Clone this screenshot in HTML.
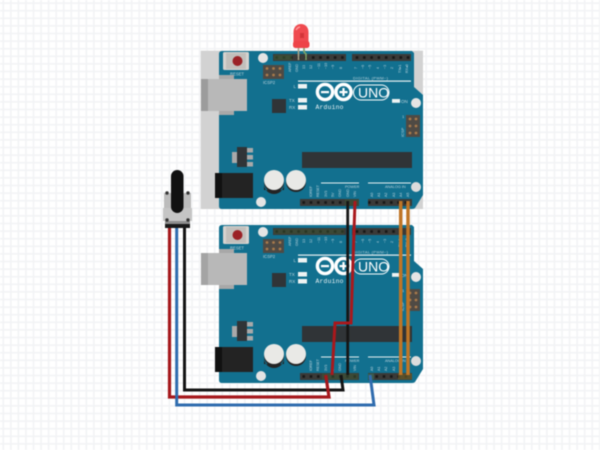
<!DOCTYPE html>
<html>
<head>
<meta charset="utf-8">
<style>
html,body{margin:0;padding:0;background:#fff;width:600px;height:450px;overflow:hidden}
svg{display:block;filter:blur(0.6px)}
text{font-family:"Liberation Sans",sans-serif;fill:#fff}
.t{font-size:3.6px;fill:#b9d2dc}
.m{font-family:"Liberation Mono",monospace}
</style>
</head>
<body>
<svg width="600" height="450" viewBox="0 0 600 450" xmlns="http://www.w3.org/2000/svg">
<defs>
<pattern id="grid" x="2.5" y="2.3" width="7.55" height="7.6" patternUnits="userSpaceOnUse">
<rect x="0" y="0" width="1.6" height="7.6" fill="#f2f3f5"/>
<rect x="0" y="0" width="7.55" height="1.6" fill="#f2f3f5"/>
</pattern>
<pattern id="pins" x="273" y="54" width="7.3" height="7" patternUnits="userSpaceOnUse">
<rect width="7.3" height="7" fill="#3a3a38"/>
<rect x="2.4" y="2.2" width="2.6" height="2.6" fill="#171717"/>
</pattern>
<pattern id="pinsb" x="300" y="199" width="7.3" height="7" patternUnits="userSpaceOnUse">
<rect width="7.3" height="7" fill="#3a3a38"/>
<rect x="2.4" y="2.2" width="2.6" height="2.6" fill="#171717"/>
</pattern>
<g id="board">
<path d="M219 54Q219 51 222 51H412L414 53V87L423 95V195L415 208Q414 209 412 209H222Q219 209 219 206Z" fill="#12708f"/>
<!-- reset -->
<rect x="223" y="52" width="26" height="18" rx="1.5" fill="#d6d3cf"/>
<rect x="226" y="53" width="20" height="16" fill="#c2bfbb"/>
<circle cx="237.5" cy="61" r="5" fill="#9b2226"/>
<text x="230" y="75.5" class="t" style="font-size:4.2px">RESET</text>
<circle cx="263" cy="58" r="5" fill="#e4e4e4"/>
<!-- top headers -->
<rect x="273" y="54" width="73" height="7" fill="url(#pins)"/>
<rect x="352" y="54" width="59" height="7" fill="url(#pins)"/>
<!-- ICSP2 -->
<rect x="263" y="65" width="21" height="14" fill="#4f4a44"/>
<g fill="#a87a4c"><circle cx="267" cy="68.5" r="1.4"/><circle cx="273.5" cy="68.5" r="1.4"/><circle cx="280" cy="68.5" r="1.4"/><circle cx="267" cy="75" r="1.4"/><circle cx="273.5" cy="75" r="1.4"/><circle cx="280" cy="75" r="1.4"/></g>
<text x="263" y="84" class="t" style="font-size:4.2px">ICSP2</text>
<!-- digital labels -->
<g class="t">
<text class="t" transform="translate(291,72) rotate(-90)">AREF</text>
<text class="t" transform="translate(298,72) rotate(-90)">GND</text>
<text class="t" transform="translate(305,69) rotate(-90)">13</text>
<text class="t" transform="translate(312,69) rotate(-90)">12</text>
<text class="t" transform="translate(320,69) rotate(-90)">~11</text>
<text class="t" transform="translate(327,69) rotate(-90)">~10</text>
<text class="t" transform="translate(334,69) rotate(-90)">~9</text>
<text class="t" transform="translate(342,69) rotate(-90)">8</text>
<text class="t" transform="translate(357,69) rotate(-90)">7</text>
<text class="t" transform="translate(364,69) rotate(-90)">~6</text>
<text class="t" transform="translate(371,69) rotate(-90)">~5</text>
<text class="t" transform="translate(379,69) rotate(-90)">4</text>
<text class="t" transform="translate(386,69) rotate(-90)">~3</text>
<text class="t" transform="translate(393,69) rotate(-90)">2</text>
<text class="t" transform="translate(401,73) rotate(-90)">TX▸1</text>
<text class="t" transform="translate(408,73) rotate(-90)">RX◂0</text>
</g>
<text x="353" y="79.5" class="t" style="font-size:4px;letter-spacing:.3px">DIGITAL (PWM~)</text>
<rect x="298" y="80.5" width="113" height="1.2" fill="#e8f0f2"/>
<!-- LEDs -->
<rect x="298" y="84" width="9" height="4.5" fill="#eef3f3"/>
<text x="293.5" y="88" class="t" style="font-size:4.5px">L</text>
<rect x="298" y="98" width="9" height="4.5" fill="#eef3f3"/>
<text x="289" y="102" class="t" style="font-size:4.5px">TX</text>
<rect x="298" y="105" width="9" height="4.5" fill="#eef3f3"/>
<text x="289" y="109" class="t" style="font-size:4.5px">RX</text>
<rect x="272" y="99" width="14" height="14" fill="#303437"/>
<!-- logo -->
<circle cx="325" cy="92" r="7.6" fill="none" stroke="#fff" stroke-width="3.4"/>
<circle cx="343.5" cy="92" r="7.6" fill="none" stroke="#fff" stroke-width="3.4"/>
<rect x="321" y="91" width="8" height="2.2" fill="#fff"/>
<rect x="339.5" y="91" width="8" height="2.2" fill="#fff"/>
<rect x="342.4" y="88" width="2.2" height="8" fill="#fff"/>
<rect x="353.5" y="85" width="35.5" height="15" rx="7.5" fill="none" stroke="#fff" stroke-width="1"/>
<text x="358" y="97.5" style="font-size:14px;font-weight:400" fill="#fff">UNO</text>
<text x="315.5" y="109" class="m" style="font-size:6.3px;letter-spacing:.25px;fill:#eaf2f4">Arduino</text>
<!-- ON -->
<rect x="392" y="99" width="8" height="3.8" fill="#eef3f3"/>
<text x="401" y="103" class="t" style="font-size:4.5px">ON</text>
<circle cx="416" cy="103" r="5" fill="#e4e4e4"/>
<!-- ICSP -->
<rect x="406" y="115" width="14" height="22" fill="#4f4a44"/>
<g fill="#a87a4c"><circle cx="410" cy="119" r="1.4"/><circle cx="416" cy="119" r="1.4"/><circle cx="410" cy="126" r="1.4"/><circle cx="416" cy="126" r="1.4"/><circle cx="410" cy="133" r="1.4"/><circle cx="416" cy="133" r="1.4"/></g>
<text class="t" transform="translate(404,137) rotate(-90)" style="font-size:4px">ICSP</text>
<text x="402" y="118" class="t" style="font-size:4px">1</text>
<!-- chip -->
<rect x="302" y="152" width="110" height="16" fill="#303437"/>
<!-- regulator -->
<rect x="232" y="152" width="6" height="11" fill="#a9a9a9"/>
<rect x="237" y="147" width="10" height="20" fill="#303437"/>
<rect x="247" y="148" width="6" height="4.5" fill="#a9a9a9"/>
<rect x="247" y="155" width="6" height="4.5" fill="#a9a9a9"/>
<rect x="247" y="162" width="6" height="4.5" fill="#a9a9a9"/>
<!-- jack -->
<rect x="215" y="173" width="38" height="25" fill="#232323"/>
<rect x="215" y="173" width="7" height="25" fill="#111"/>
<!-- caps -->
<path d="M264 184A10 10 0 0 0 284 184V190H264Z" fill="#242424"/>
<circle cx="274" cy="182" r="10" fill="#242424"/>
<circle cx="274" cy="180" r="10" fill="#e9e9e6"/>
<path d="M286 184A10 10 0 0 0 306 184V190H286Z" fill="#242424" opacity="0"/>
<circle cx="296" cy="182" r="10" fill="#242424"/>
<circle cx="296" cy="180" r="10" fill="#e9e9e6"/>
<!-- holes -->
<circle cx="261" cy="202" r="5" fill="#e4e4e4"/>
<circle cx="416" cy="187" r="5" fill="#dcdcdc"/>
<!-- power labels -->
<rect x="321" y="182.5" width="38" height="1" fill="#e8f0f2"/>
<rect x="368" y="182.5" width="43" height="1" fill="#e8f0f2"/>
<text x="345" y="188" class="t" style="font-size:3.8px">POWER</text>
<text x="385" y="188" class="t" style="font-size:3.8px">ANALOG IN</text>
<text class="t" transform="translate(312,197) rotate(-90)">IOREF</text>
<text class="t" transform="translate(319,197) rotate(-90)">RESET</text>
<text class="t" transform="translate(327,197) rotate(-90)">3V3</text>
<text class="t" transform="translate(334,197) rotate(-90)">5V</text>
<text class="t" transform="translate(341,197) rotate(-90)">GND</text>
<text class="t" transform="translate(349,197) rotate(-90)">GND</text>
<text class="t" transform="translate(356,197) rotate(-90)">VIN</text>
<text class="t" transform="translate(373,197) rotate(-90)">A0</text>
<text class="t" transform="translate(380,197) rotate(-90)">A1</text>
<text class="t" transform="translate(387,197) rotate(-90)">A2</text>
<text class="t" transform="translate(395,197) rotate(-90)">A3</text>
<text class="t" transform="translate(402,197) rotate(-90)">A4</text>
<text class="t" transform="translate(409,197) rotate(-90)">A5</text>
<!-- bottom headers -->
<rect x="300" y="199" width="59" height="7" fill="url(#pinsb)"/>
<rect x="368" y="199" width="44" height="7" fill="url(#pinsb)"/>
</g>
</defs>

<rect width="600" height="450" fill="#fff"/>
<rect width="600" height="450" fill="url(#grid)"/>

<!-- top board backing -->
<rect x="200.7" y="50.7" width="222.3" height="158.3" fill="#d2d2d2"/>
<use href="#board"/>
<!-- USB top -->
<rect x="201" y="79" width="46" height="32" fill="#b8b8b8"/>
<rect x="201" y="79" width="7" height="32" fill="#9c9c9c"/>
<rect x="219" y="75" width="15" height="4" fill="#a8a8a8"/>
<rect x="219" y="111" width="15" height="4" fill="#a8a8a8"/>
<!-- green pins top -->
<rect x="274" y="55" width="18" height="5" fill="#3d5a36" opacity=".6"/>
<rect x="345" y="199.5" width="14" height="6" fill="#3d5a36" opacity=".5"/>

<!-- bottom board -->
<use href="#board" y="174"/>
<rect x="201" y="253" width="46" height="32" fill="#b8b8b8"/>
<rect x="201" y="253" width="7" height="32" fill="#a4a4a4"/>
<rect x="219" y="249" width="15" height="4" fill="#a8a8a8"/>
<rect x="219" y="285" width="15" height="4" fill="#a8a8a8"/>
<rect x="274" y="229" width="70" height="5" fill="#3d5a36" opacity=".45"/>
<rect x="322" y="373.5" width="36" height="6" fill="#3d5a36" opacity=".5"/>
<rect x="368" y="373.5" width="6" height="6" fill="#3d6a56" opacity=".7"/>
<rect x="398" y="373.5" width="14" height="6" fill="#6a5a26" opacity=".7"/>

<!-- LED -->
<path d="M298.5 47V60" stroke="#a9a58a" stroke-width="1.6" fill="none"/>
<path d="M304 47V52L306 54V60" stroke="#7fa36a" stroke-width="1.6" fill="none"/>
<path d="M293.5 44V32C293.5 27 297 24 301 24C305 24 308.5 27 308.5 32V44Z" fill="#ef4a4f"/>
<rect x="293" y="41" width="16.5" height="7" rx="2.5" fill="#ee4348"/>
<path d="M296 30C297 28 299 27 300 27" stroke="#ff9b9b" stroke-width="1.4" fill="none"/>
<rect x="300" y="33" width="4" height="5" fill="#c92c30" opacity=".7"/>

<!-- orange wires -->
<path d="M400.7 201V375" stroke="#bf7526" stroke-width="3.5" fill="none"/>
<path d="M408 201V375" stroke="#bf7526" stroke-width="3.5" fill="none"/>

<!-- black/red upper wires -->
<path d="M347.7 201V375" stroke="#161616" stroke-width="2.8" fill="none"/>
<path d="M355 201L351 323H335L332 375" stroke="#a9181c" stroke-width="3" fill="none"/>

<!-- pot wires -->
<path d="M184.5 226V390H343L341 375" stroke="#141414" stroke-width="3" fill="none"/>
<path d="M169.5 226V397H329L325.7 375" stroke="#a5181c" stroke-width="3.2" fill="none"/>
<path d="M176.7 226V405H374L370 375" stroke="#2f6cae" stroke-width="3" fill="none"/>

<!-- potentiometer -->
<path d="M164 193H191V214L188 222H167L164 214Z" fill="#bcbcbc"/>
<rect x="163" y="208" width="29" height="13" fill="#c5c5c5"/>
<rect x="165" y="221" width="25" height="3" fill="#8e8e8e"/>
<rect x="165" y="224" width="25" height="4" fill="#1a1a1a"/>
<rect x="171" y="170" width="12.5" height="43" rx="6.2" fill="#111"/>
<circle cx="167" cy="193" r="1.7" fill="#333"/>
<circle cx="188" cy="193" r="1.7" fill="#333"/>
<circle cx="167" cy="220" r="1.7" fill="#333"/>
<circle cx="188" cy="220" r="1.7" fill="#333"/>
</svg>
</body>
</html>
